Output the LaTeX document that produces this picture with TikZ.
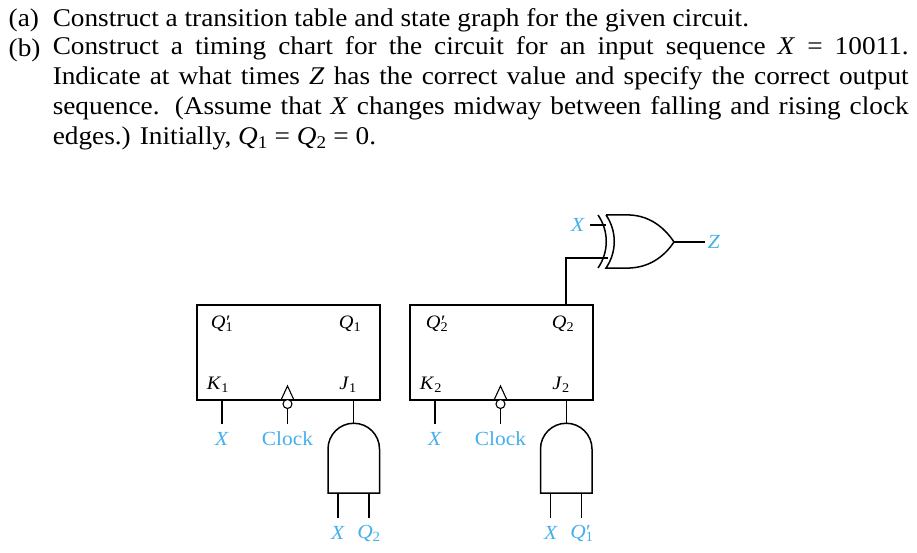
\documentclass[tikz,border=0pt]{standalone}
\usepackage{fontspec}
\setmainfont{Liberation Serif}[FakeStretch=1.07]
\newcommand{\mv}[1]{\textit{#1}}
\newcommand{\mq}[2]{\textit{#1}\textsubscript{#2}}
\newcommand{\mqp}[2]{\textit{#1}\rlap{\kern0.5pt′}\textsubscript{#2}}
\begin{document}
\begin{tikzpicture}[x=1pt,y=-1pt,line width=1.5pt,
  pin/.style={font=\fontsize{19}{22}\selectfont,inner sep=0pt},
  wire/.style={line width=1.1pt},
  para/.style={inner sep=0pt,font=\fontsize{25.5}{30}\selectfont}]
\definecolor{lb}{RGB}{70,175,235}
\tikzset{lbl/.style={text=lb,font=\fontsize{20}{22}\selectfont,inner sep=0pt}}
\useasboundingbox (0,0) rectangle (917,553);
% text
\node[anchor=base west,para] (la) at (8,27) {(a)};
\node[anchor=base west,para] (ta) at (52,27) {Construct a transition table and state graph for the given circuit.};
\node[anchor=base west,para] (lb) at (8,57) {(b)};
\node[anchor=north west,text width=856pt,align=justify,para] (tb) at (52,36) {Construct a timing chart for the circuit for an input sequence \mv{X} = 10011.\linebreak Indicate at what times \mv{Z} has the correct value and specify the correct output\linebreak sequence. (Assume that \mv{X} changes midway between falling and rising clock\linebreak edges.) Initially, \mq{Q}{1} = \mq{Q}{2} = 0.};
% flip-flops
\node[draw,minimum width=183pt,minimum height=95pt,anchor=north west,inner sep=0pt] (ff1) at (196,304) {};
\node[draw,minimum width=183pt,minimum height=95pt,anchor=north west,inner sep=0pt] (ff2) at (409,304) {};
\node[pin] (q1n) at (222,324) {\mqp{Q}{1}};
\node[pin] (q1) at (350,324) {\mq{Q}{1}};
\node[pin] (k1) at (218,385) {\mq{K}{1}};
\node[pin] (j1) at (348,385) {\mq{J}{1}};
\node[pin] (q2n) at (437,324) {\mqp{Q}{2}};
\node[pin] (q2) at (563,324) {\mq{Q}{2}};
\node[pin] (k2) at (431,385) {\mq{K}{2}};
\node[pin] (j2) at (561,385) {\mq{J}{2}};
% clocks
\foreach \cx/\n in {287.5/1,500.5/2}{
  \draw[wire] (\cx-6,399) -- (\cx,386) -- (\cx+6,399);
  \draw[wire,fill=white] (\cx,404) circle (4.5);
  \draw[wire] (\cx,408.5) -- (\cx,424);
  \node[lbl] (clk\n) at (\cx,439) {Clock};
}
\draw[wire] (222,399) -- (222,424);
\node[lbl] (x1) at (222,439) {\mv{X}};
\draw[wire] (435,399) -- (435,424);
\node[lbl] (x2) at (435,439) {\mv{X}};
% AND gates
\foreach \l/\n in {328/1,540.5/2}{
  \draw (\l,493) -- (\l,449) arc[start angle=180,end angle=360,radius=25.75] -- (\l+51.5,493) -- cycle;
  \draw[wire] (\l+25.75,399) -- (\l+25.75,423.25);
  \draw[wire] (\l+10,493) -- (\l+10,518);
  \draw[wire] (\l+41,493) -- (\l+41,518);
}
\node[lbl] (ax1) at (338,533) {\mv{X}};
\node[lbl] (aq2) at (369,533) {\mq{Q}{2}};
\node[lbl] (ax2) at (551,533) {\mv{X}};
\node[lbl] (aq1) at (582,533) {\mqp{Q}{1}};
% XOR
\draw (606,215) -- (630,215) .. controls (652,216) and (666,230) .. (674,242)
  .. controls (666,254) and (652,267) .. (630,268) -- (606,268)
  .. controls (617,252) and (617,231) .. (606,215);
\draw (598,215) .. controls (609,231) and (609,252) .. (598,268);
\draw[wire] (590,225) -- (606,225);
\draw[wire] (566,304) -- (566,258) -- (608,258);
\draw[wire] (674,242) -- (705,242);
\node[lbl] (xz) at (578,225) {\mv{X}};
\node[lbl] (z) at (714,242) {\mv{Z}};
\end{tikzpicture}
\end{document}
